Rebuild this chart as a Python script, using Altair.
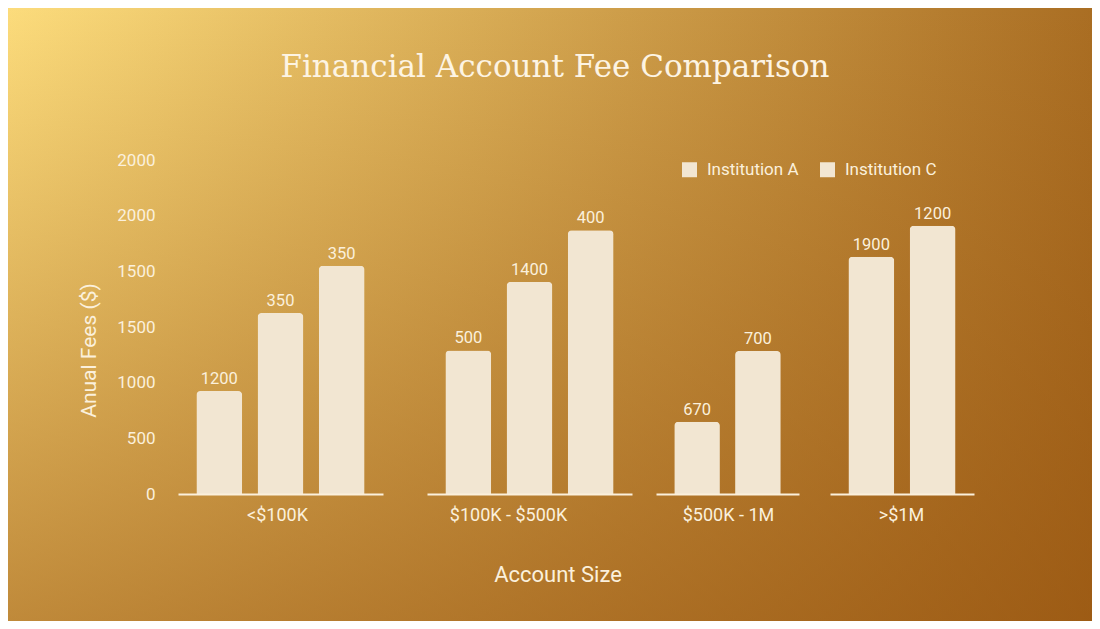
import json
import altair as alt
import pandas as pd

# ---------------- data ----------------
title_text = "Financial Account Fee Comparison"
x_title_text = "Account Size"
y_title_text = "Anual Fees ($)"

groups = ["<$100K", "$100K - $500K", "$500K - 1M", ">$1M"]
group_bars = [
    ["Institution A", "Institution B", "Institution C"],
    ["Institution A", "Institution B", "Institution C"],
    ["Institution A", "Institution C"],
    ["Institution A", "Institution C"],
]
bar_heights = [
    [925, 1625, 2050],
    [1290, 1905, 2370],
    [650, 1285],
    [2130, 2410],
]
bar_labels = [
    ["1200", "350", "350"],
    ["500", "1400", "400"],
    ["670", "700"],
    ["1900", "1200"],
]
y_tick_values = [0, 500, 1000, 1500, 2000, 2500, 3000]
y_tick_labels = ["0", "500", "1000", "1500", "1500", "2000", "2000"]
legend_names = ["Institution A", "Institution C"]

# ---------------- style ----------------
FONT = "Roboto"
TITLE_FONT = "DejaVu Serif"
CREAM = "#fbf0dc"
BAR = "#f2e6d2"
panel_widths = [249, 229, 174, 144]
axis_spans = [205, 205, 143, 144]
group_title_x = [99, 81, 72, 71]
PANEL_H = 334

label_expr = (
    f"{json.dumps(y_tick_labels)}[indexof({json.dumps(y_tick_values)}, datum.value)]"
)


def make_panel(i):
    df = pd.DataFrame(
        {"inst": group_bars[i], "fee": bar_heights[i], "label": bar_labels[i]}
    )
    xscale = alt.Scale(
        domain=group_bars[i],
        range=[0, axis_spans[i]],
        paddingInner=0.25,
        paddingOuter=0.3,
    )
    yscale = alt.Scale(domain=[0, 3000], nice=False, zero=True)
    xaxis = alt.Axis(
        title=groups[i],
        labels=False,
        ticks=False,
        grid=False,
        domain=True,
        domainColor=CREAM,
        domainWidth=2,
        titleFont=FONT,
        titleFontSize=18,
        titleFontWeight="normal",
        titleColor=CREAM,
        titlePadding=12,
        titleX=group_title_x[i],
        titleAlign="center",
        zindex=1,
    )
    if i == 0:
        yaxis = alt.Axis(
            values=y_tick_values,
            labelExpr=label_expr,
            grid=False,
            domain=False,
            ticks=False,
            tickSize=0,
            labelPadding=23,
            labelFont=FONT,
            labelFontSize=17,
            labelColor=CREAM,
            title=y_title_text,
            titleFont=FONT,
            titleFontSize=21,
            titleFontWeight="normal",
            titleColor=CREAM,
            titleAngle=270,
            titleX=-89,
            titleY=190,
            titleAlign="center",
            titleBaseline="middle",
            zindex=1,
        )
    else:
        yaxis = None

    base = alt.Chart(df).encode(
        x=alt.X("inst:N", scale=xscale, axis=xaxis, sort=group_bars[i]),
        y=alt.Y("fee:Q", scale=yscale, axis=yaxis),
    )
    bars = base.mark_bar(
        color=BAR, cornerRadiusTopLeft=4, cornerRadiusTopRight=4
    )
    texts = base.mark_text(
        baseline="alphabetic", dy=-7, font=FONT, fontSize=16.5, color=CREAM
    ).encode(text="label:N")

    layers = []
    if i == 0:
        bg_df = pd.DataFrame({"bg": [0]})
        bg = alt.Chart(bg_df).mark_rect(
            fill=alt.Gradient(
                gradient="linear",
                stops=[
                    alt.GradientStop(color="#fcdc7c", offset=0),
                    alt.GradientStop(color="#aa6e23", offset=1),
                ],
                x1=0, y1=0, x2=1, y2=0,
            )
        ).encode(
            x=alt.value(-170), x2=alt.value(914),
            y=alt.value(-152), y2=alt.value(461),
        )
        shade = alt.Chart(bg_df).mark_rect(
            fill=alt.Gradient(
                gradient="linear",
                stops=[
                    alt.GradientStop(color="rgba(148,78,10,0)", offset=0),
                    alt.GradientStop(color="rgba(148,78,10,0.58)", offset=1),
                ],
                x1=0, y1=0, x2=0, y2=1,
            )
        ).encode(
            x=alt.value(-170), x2=alt.value(914),
            y=alt.value(-152), y2=alt.value(461),
        )
        layers += [bg, shade]

    layers += [bars, texts]

    if i == 0:
        t_df = pd.DataFrame({"t": [title_text]})
        title = alt.Chart(t_df).mark_text(
            font=TITLE_FONT, fontSize=31, color="#fdf4e3",
            align="center", baseline="middle",
        ).encode(text="t:N", x=alt.value(377), y=alt.value(-92))
        xt_df = pd.DataFrame({"t": [x_title_text]})
        xtitle = alt.Chart(xt_df).mark_text(
            font=FONT, fontSize=22, color=CREAM,
            align="center", baseline="middle",
        ).encode(text="t:N", x=alt.value(380), y=alt.value(415))
        leg_df = pd.DataFrame({"name": legend_names})
        leg = alt.Chart(leg_df).mark_square(size=0, opacity=1).encode(
            x=alt.value(0),
            y=alt.value(0),
            color=alt.Color(
                "name:N",
                scale=alt.Scale(domain=legend_names, range=[BAR, BAR]),
                legend=alt.Legend(
                    orient="none",
                    legendX=503,
                    legendY=1,
                    direction="horizontal",
                    title=None,
                    symbolType="square",
                    symbolSize=225,
                    symbolStrokeWidth=0,
                    symbolOpacity=1,
                    labelFont=FONT,
                    labelFontSize=17,
                    labelColor=CREAM,
                    labelOffset=9,
                    columnPadding=20,
                    padding=0,
                ),
            ),
        )
        layers += [title, xtitle, leg]

    return alt.layer(*layers).properties(width=panel_widths[i], height=PANEL_H)


panels = [make_panel(i) for i in range(len(groups))]

chart = (
    alt.hconcat(*panels, spacing=0, bounds="flush")
    .configure(background="#c48d35", padding=0)
    .configure_view(stroke=None)
)

chart.save("out.html", embed_options={"renderer": "svg", "actions": False})
